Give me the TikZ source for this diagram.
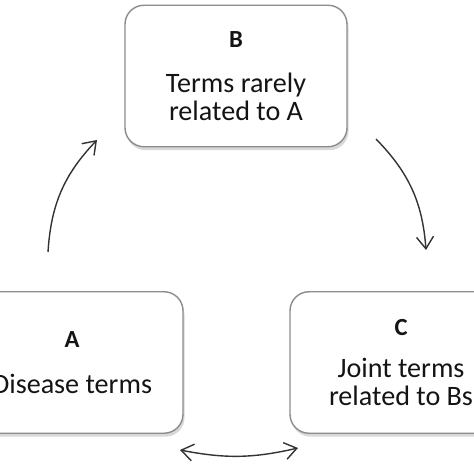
\documentclass[tikz,border=0pt]{standalone}
\usepackage{fontspec}
\setmainfont{Carlito}
\usepackage{tikz}
\usetikzlibrary{arrows.meta,shadows,calc}

\newcommand{\boxletter}[1]{\textbf{\fontsize{14}{16}\selectfont #1}}

\begin{document}
\begin{tikzpicture}[>={Straight Barb[length=2.4mm,width=3.4mm]},thick,
	termbox/.style={draw=black!45,fill=white,text=black!92,rounded corners=0.38cm,minimum width=4.44cm,minimum height=2.83cm,align=center,font=\fontsize{16}{16}\selectfont,drop shadow={shadow xshift=0.03cm,shadow yshift=-0.07cm,opacity=0.3}}]
		\useasboundingbox (0,0) rectangle (9.48,9.48);
		\clip (0,0) rectangle (9.48,9.48);
		\node[termbox] (B) at (4.72,7.96) {\boxletter{B}\\[9.6pt]Terms rarely\\related to A};
		\node[termbox] (A) at (1.44,2.23) {\boxletter{A}\\[10pt]Disease terms};
		\node[termbox] (C) at (8.02,2.23) {\boxletter{C}\\[8pt]Joint terms\\related to Bs};
		
		\coordinate (a1) at (0.96,4.44);
		\coordinate (b1) at (1.94,6.68);
		\coordinate (b2) at (7.52,6.70);
		\coordinate (c1) at (8.52,4.48);
		\coordinate (a2) at (3.60,0.48);
		\coordinate (c2) at (5.96,0.52);
		
		\draw[->,black!80] (a1) to[bend left=20] (b1);
		\draw[->,black!80] (b2) to[bend left=20] (c1);
		\draw[<->,black!80] (a2) to[bend right=12] (c2);
		\end{tikzpicture}
\end{document}
